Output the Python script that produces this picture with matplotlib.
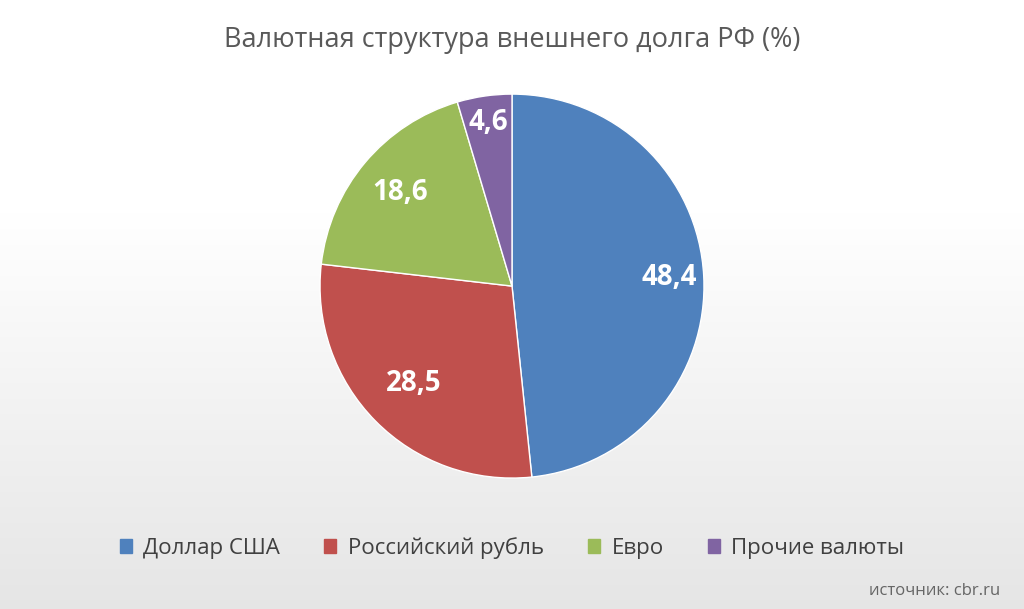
import matplotlib.pyplot as plt
import numpy as np

categories = ["Доллар США", "Российский рубль", "Евро", "Прочие валюты"]
values = [48.4, 28.5, 18.6, 4.6]
value_labels = ["48,4", "28,5", "18,6", "4,6"]
colors = ["#4f81bd", "#c0504d", "#9bbb59", "#8064a2"]

plt.rcParams["font.family"] = "Open Sans"

fig = plt.figure(figsize=(10.24, 6.09), dpi=100)

# soft background gradient, white on top to light grey at the bottom
bg = fig.add_axes([0, 0, 1, 1], zorder=-1)
grad = np.linspace(0, 1, 256).reshape(-1, 1)
grad = np.clip((grad - 0.35) / 0.65, 0, 1)
shade = 1 - 0.10 * grad
bg.imshow(np.dstack([shade, shade, shade]), aspect="auto", extent=[0, 1, 0, 1], origin="upper")
bg.axis("off")

ax = fig.add_axes([0.3125, 0.215, 0.375, 0.6305])
wedges, _ = ax.pie(values, colors=colors, startangle=90, counterclock=False,
                   radius=1.0, wedgeprops=dict(edgecolor="white", linewidth=1))
dists = [0.82, 0.72, 0.76, 0.86]
for w, lab, d in zip(wedges, value_labels, dists):
    ang = np.deg2rad((w.theta1 + w.theta2) / 2)
    ax.text(d * np.cos(ang), d * np.sin(ang), lab, ha="center", va="center",
            color="white", fontsize=20, fontweight="bold")
ax.set_xlim(-1, 1)
ax.set_ylim(-1, 1)

fig.text(0.5, 0.935, "Валютная структура внешнего долга РФ (%)", ha="center", va="center",
         fontsize=19.5, color="#595959")

handles = [plt.Rectangle((0, 0), 1, 1, color=c) for c in colors]
fig.legend(handles, categories, loc="center", bbox_to_anchor=(0.5, 0.1), ncol=4,
           frameon=False, fontsize=16, handlelength=0.55, handleheight=0.55,
           columnspacing=2.0, handletextpad=0.5, labelcolor="#404040")

fig.text(0.977, 0.03, "источник: cbr.ru", ha="right", va="center", fontsize=12, color="#666666")

fig.savefig("out.png", dpi=100)
